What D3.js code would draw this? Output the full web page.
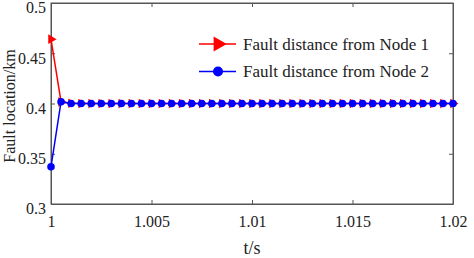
<!DOCTYPE html>
<html><head><meta charset="utf-8">
<script src="https://cdn.jsdelivr.net/npm/d3@7"></script>
<style>body{margin:0;background:#fff}svg{display:block}svg text{font-family:"Times New Roman","Liberation Serif","DejaVu Serif",serif !important}</style>
</head><body>
<script>
const times = d3.range(41).map(i => +(1 + i*0.0005).toFixed(4));
const node1 = [0.464, 0.4015, 0.4003].concat(Array(38).fill(0.4));
const node2 = [0.337, 0.4018].concat(Array(39).fill(0.4));
const xTicks = [1, 1.005, 1.01, 1.015, 1.02];
const xTickLabels = ["1", "1.005", "1.01", "1.015", "1.02"];
const yTicks = [0.3, 0.35, 0.4, 0.45, 0.5];
const yTickLabels = ["0.3", "0.35", "0.4", "0.45", "0.5"];
const seriesNames = ["Fault distance from Node 1", "Fault distance from Node 2"];

const W = 474, H = 258;
const m = {l: 51, r: 21, t: 3, b: 54};
const svg = d3.select("body").append("svg").attr("width", W).attr("height", H);
const x = d3.scaleLinear().domain([1, 1.02]).range([m.l, W - m.r]);
const y = d3.scaleLinear().domain([0.3, 0.5]).range([H - m.b, m.t]);
const axisCol = "#555";

svg.append("rect").attr("x", m.l).attr("y", m.t).attr("width", W - m.r - m.l).attr("height", H - m.b - m.t)
  .attr("fill", "none").attr("stroke", axisCol).attr("stroke-width", 1);

const gx = svg.append("g").attr("transform", `translate(0,${H - m.b})`)
  .call(d3.axisBottom(x).tickValues(xTicks).tickFormat((d, i) => xTickLabels[i]).tickSizeInner(-4).tickSizeOuter(0).tickPadding(12));
const gxt = svg.append("g").attr("transform", `translate(0,${m.t})`)
  .call(d3.axisTop(x).tickValues(xTicks).tickFormat("").tickSizeInner(-4).tickSizeOuter(0));
const gy = svg.append("g").attr("transform", `translate(${m.l},0)`)
  .call(d3.axisLeft(y).tickValues(yTicks).tickFormat((d, i) => yTickLabels[i]).tickSizeInner(-4).tickSizeOuter(0).tickPadding(5));
const gyr = svg.append("g").attr("transform", `translate(${W - m.r},0)`)
  .call(d3.axisRight(y).tickValues(yTicks).tickFormat("").tickSizeInner(-4).tickSizeOuter(0));
[gx, gxt, gy, gyr].forEach(g => {
  g.attr("font-family", null);
  g.select(".domain").attr("stroke", axisCol);
  g.selectAll(".tick line").attr("stroke", axisCol);
  g.selectAll("text").attr("font-size", 16).attr("fill", "#222");
});
gy.selectAll("text").attr("dy", "0.62em");

svg.append("text").attr("x", x(1.01)).attr("y", 254).attr("text-anchor", "middle")
  .attr("font-size", 18).attr("fill", "#222").text("t/s");
svg.append("text").attr("transform", `translate(15,106) rotate(-90)`)
  .attr("text-anchor", "middle").attr("font-size", 16).attr("fill", "#222").text("Fault location/km");

const line = d3.line().x((d, i) => x(times[i])).y(d => y(d));
const tri = d3.symbol().type(d3.symbolTriangle).size(40);

svg.append("path").datum(node1).attr("d", line).attr("fill", "none").attr("stroke", "#f00").attr("stroke-width", 1.5);
svg.append("g").selectAll("path").data(node1).join("path")
  .attr("d", tri).attr("transform", (d, i) => `translate(${x(times[i])},${y(d)}) rotate(90)`).attr("fill", "#f00");

svg.append("path").datum(node2).attr("d", line).attr("fill", "none").attr("stroke", "#00f").attr("stroke-width", 1.5);
svg.append("g").selectAll("circle").data(node2).join("circle")
  .attr("cx", (d, i) => x(times[i])).attr("cy", d => y(d)).attr("r", 3.8).attr("fill", "#00f");

const leg = svg.append("g");
const colors = ["#f00", "#00f"];
seriesNames.forEach((name, k) => {
  const ly = 44 + k * 27.5;
  leg.append("line").attr("x1", 199).attr("x2", 236).attr("y1", ly).attr("y2", ly).attr("stroke", colors[k]).attr("stroke-width", 1.5);
  if (k === 0) leg.append("path").attr("d", d3.symbol().type(d3.symbolTriangle).size(100)).attr("transform", `translate(218,${ly}) rotate(90)`).attr("fill", colors[k]);
  else leg.append("circle").attr("cx", 218).attr("cy", ly).attr("r", 5).attr("fill", colors[k]);
  leg.append("text").attr("x", 243).attr("y", ly).attr("dy", "0.35em").attr("font-size", 17).attr("fill", "#222").text(name);
});
</script>
</body></html>
